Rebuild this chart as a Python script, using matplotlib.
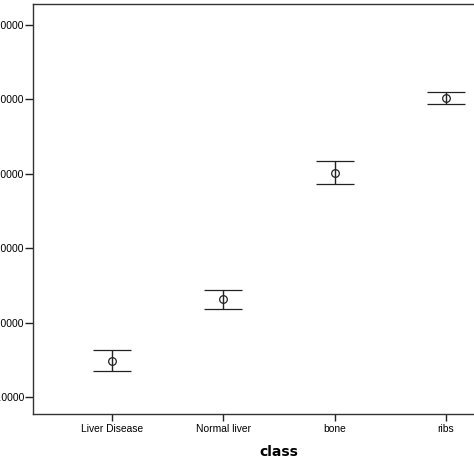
import matplotlib
matplotlib.use("Agg")
import matplotlib.pyplot as plt
import numpy as np

# group means and error bar limits
categories = ["Liver Disease", "Normal liver", "bone", "ribs"]
means = [1.488, 2.317, 4.015, 5.013]
upper = [1.632, 2.442, 4.167, 5.099]
lower = [1.349, 2.191, 3.863, 4.935]
yticks = [1, 2, 3, 4, 5, 6]

fig = plt.figure(figsize=(4.74, 4.74), dpi=100)
ax = fig.add_axes([0.0696, 0.1266, 1.038, 0.865])

x = np.arange(len(categories))
m = np.array(means)
err = np.array([m - np.array(lower), np.array(upper) - m])
ax.errorbar(x, m, yerr=err, fmt="o", mfc="none", mec="#222222", ms=5.5,
            mew=0.9, ecolor="#222222", elinewidth=1.0, capsize=14,
            capthick=1.0, color="#222222")

ax.set_xlim(-0.714, 3.714)
ax.set_ylim(0.776, 6.282)
ax.set_xticks(x)
ax.set_xticklabels(categories, fontsize=7.4, family="Liberation Sans")
ax.set_yticks(yticks)
ax.set_yticklabels([f"{v:.4f}" for v in yticks], fontsize=7.4,
                   family="Liberation Sans")
ax.tick_params(axis="y", direction="out", length=6, width=1,
               color="#222222", pad=0.3)
ax.tick_params(axis="x", direction="out", length=5, width=1,
               color="#222222", pad=2)
for s in ax.spines.values():
    s.set_color("#333333")
    s.set_linewidth(1.0)
ax.spines["right"].set_visible(False)

ax.set_xlabel("class", fontsize=10, fontweight="bold", family="DejaVu Sans",
              labelpad=8)

fig.savefig("out.png", dpi=100)
